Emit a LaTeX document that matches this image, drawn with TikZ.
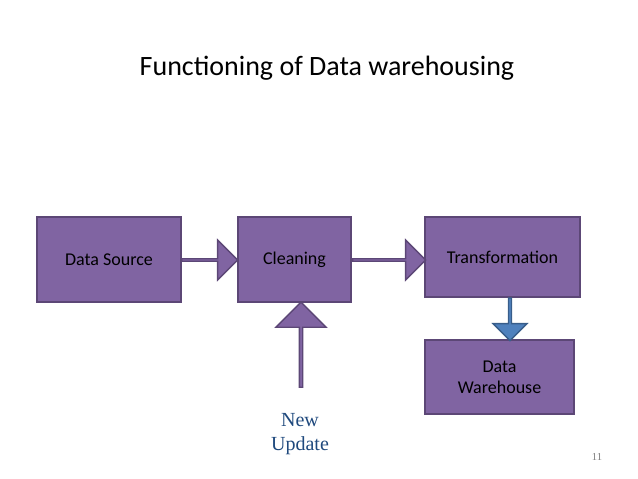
\documentclass[tikz,border=0pt]{standalone}
\usepackage{fontspec}
\setmainfont{Carlito}
\usetikzlibrary{shapes.arrows}
\definecolor{boxfill}{HTML}{8064A2}
\definecolor{boxline}{HTML}{5C4776}
\definecolor{bluefill}{HTML}{4F81BD}
\definecolor{blueline}{HTML}{385D8A}
\definecolor{navy}{HTML}{1F497D}
\begin{document}
\begin{tikzpicture}[x=0.75pt, y=-0.75pt,
  box/.style={draw=boxline, fill=boxfill, line width=1pt, inner sep=0pt,
    align=center, font=\fontsize{13.5}{16}\selectfont},
  blk/.style={single arrow, draw=boxline, fill=boxfill, line width=1pt,
    inner sep=0pt, single arrow head extend=#1},
  blk/.default=7.5pt]
\useasboundingbox (0,0) rectangle (638,478);
\node[font=\fontsize{21}{25}\selectfont] (title) at (327,68) {Functioning of Data warehousing};
\node[box, minimum width=108pt, minimum height=63.75pt] (src) at (109,259.5) {Data Source};
\node[box, minimum width=84.75pt, minimum height=63.75pt] (cln) at (294.5,259.5) {Cleaning};
\node[box, minimum width=116.25pt, minimum height=60pt] (trf) at (502.5,257) {Transformation};
\node[box, minimum width=111.75pt, minimum height=55.5pt] (dwh) at (499.5,377) {Data\\Warehouse};
\node[blk, minimum height=42pt, minimum width=30pt] (a1) at (209,260) {};
\node[blk, minimum height=54.75pt, minimum width=30pt] (a2) at (388.5,260) {};
\node[blk, rotate=90, minimum height=63.75pt, minimum width=37.5pt, single arrow head extend=7pt] (a3) at (301,345.5) {};
\node[single arrow, draw=blueline, fill=bluefill, line width=1pt, inner sep=0pt,
  rotate=-90, minimum height=32pt, minimum width=25.5pt, single arrow head extend=5pt] (a4) at (510,318.5) {};
\node[font=\fontsize{15}{18}\selectfont\rmfamily\fontspec{Liberation Serif}, text=navy, align=center] (upd) at (300,434) {New\\Update};
\node[font=\fontsize{8}{10}\selectfont\fontspec{Liberation Serif}, text=gray] (pg) at (597,457) {11};
\end{tikzpicture}
\end{document}
